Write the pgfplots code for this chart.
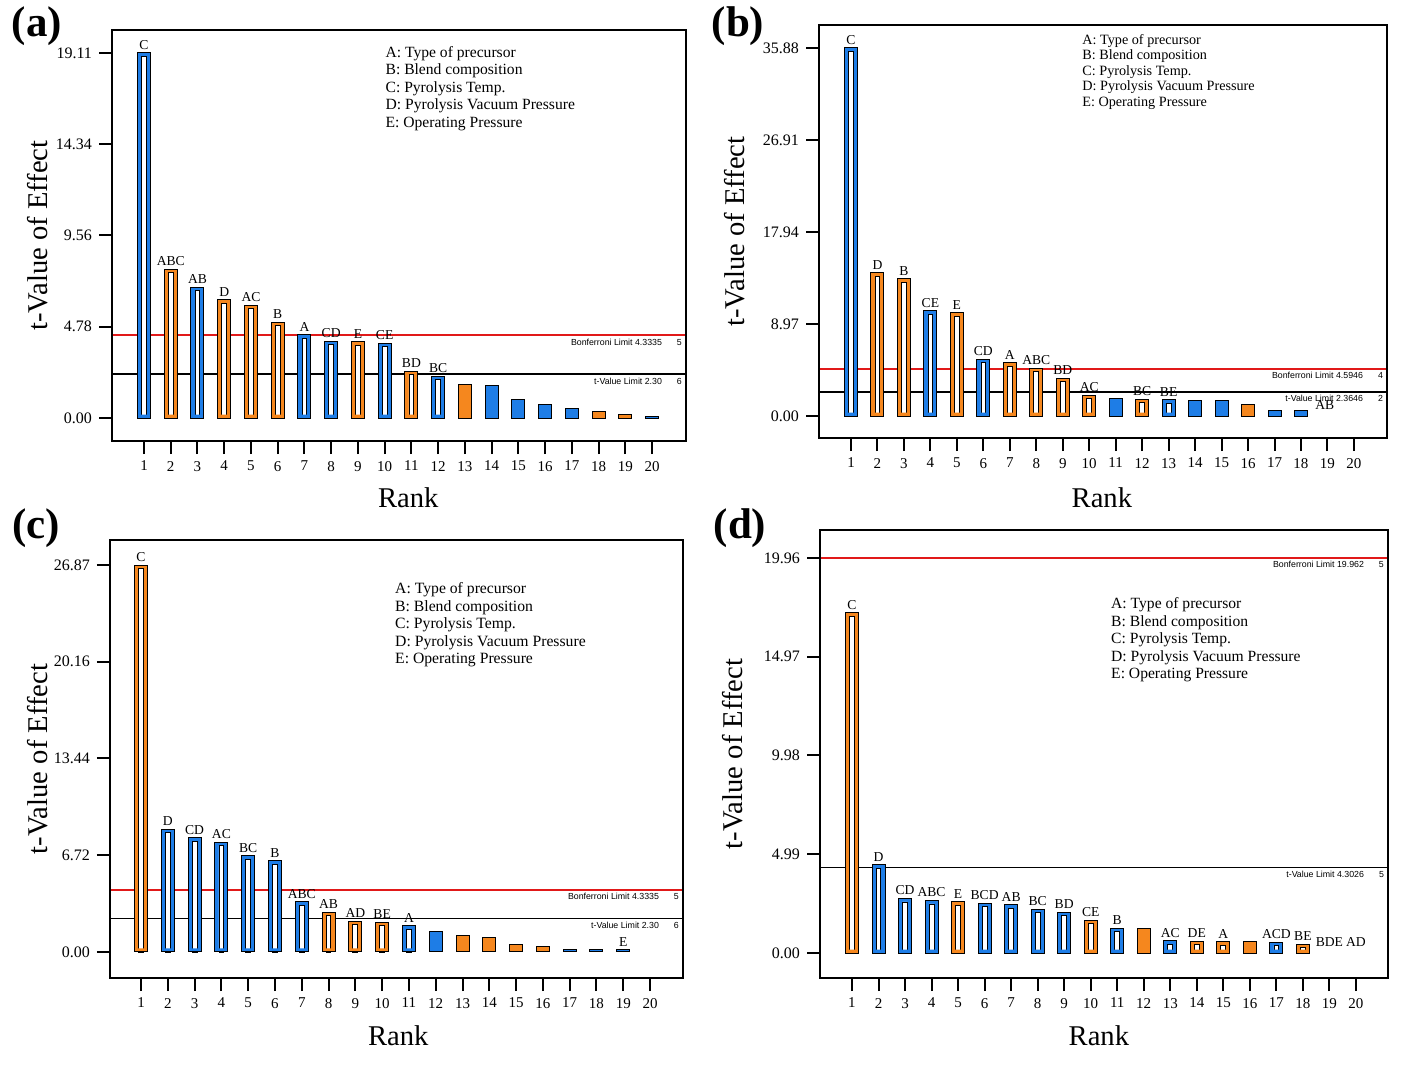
\documentclass[border=0pt]{standalone}
\usepackage{pgfplots}
\pgfplotsset{compat=1.18}
\usepackage{pgfplotstable}
\usepackage{fontspec}
\setmainfont{Liberation Serif}
\newfontfamily\arial{Liberation Sans}
\definecolor{myblue}{RGB}{30,125,230}
\definecolor{myorange}{RGB}{245,135,30}
\definecolor{limred}{RGB}{225,25,25}

% ---------- panel (a)
\pgfplotstableread{
x v
1 19.11
3 6.84
7 4.36
8 4.03
10 3.91
12 2.20
}\HBa
\pgfplotstableread{
x v
2 7.78
4 6.18
5 5.90
6 5.01
9 4.00
11 2.46
}\HOa
\pgfplotstableread{
x v
14 1.68
15 0.99
16 0.72
17 0.52
20 0.10
}\FBa
\pgfplotstableread{
x v
13 1.78
18 0.33
19 0.19
}\FOa
\pgfplotstableread{
x v lab
1 19.11 C
2 7.78 ABC
3 6.84 AB
4 6.18 D
5 5.90 AC
6 5.01 B
7 4.36 A
8 4.03 CD
9 4.00 E
10 3.91 CE
11 2.46 BD
12 2.20 BC
}\La
% ---------- panel (b)
\pgfplotstableread{
x v
1 35.88
4 10.27
6 5.53
13 1.58
}\HBb
\pgfplotstableread{
x v
2 13.97
3 13.39
5 10.07
7 5.20
8 4.65
9 3.67
10 2.02
12 1.62
}\HOb
\pgfplotstableread{
x v
11 1.68
14 1.56
15 1.52
17 0.58
18 0.50
}\FBb
\pgfplotstableread{
x v
16 1.14
}\FOb
\pgfplotstableread{
x v lab
1 35.88 C
2 13.97 D
3 13.39 B
4 10.27 CE
5 10.07 E
6 5.53 CD
7 5.20 A
8 4.65 ABC
9 3.67 BD
10 2.02 AC
12 1.62 BC
13 1.58 BE
18.9 0.3 AB
}\Lb
% ---------- panel (c)
\pgfplotstableread{
x v
2 8.52
3 7.94
4 7.62
5 6.69
6 6.34
7 3.49
11 1.81
}\HBc
\pgfplotstableread{
x v
1 26.87
8 2.76
9 2.13
10 2.06
}\HOc
\pgfplotstableread{
x v
12 1.41
17 0.17
18 0.16
19 0.14
}\FBc
\pgfplotstableread{
x v
13 1.11
14 1.02
15 0.53
16 0.37
}\FOc
\pgfplotstableread{
x v lab
1 26.87 C
2 8.52 D
3 7.94 CD
4 7.62 AC
5 6.69 BC
6 6.34 B
7 3.49 ABC
8 2.76 AB
9 2.13 AD
10 2.06 BE
11 1.81 A
19 0.14 E
}\Lc
% ---------- panel (d)
\pgfplotstableread{
x v
2 4.45
3 2.76
4 2.66
6 2.51
7 2.43
8 2.21
9 2.06
11 1.25
13 0.62
17 0.55
}\HBd
\pgfplotstableread{
x v
1 17.18
5 2.58
10 1.67
14 0.60
15 0.58
18 0.44
}\HOd
\pgfplotstableread{
x v
12 1.22
16 0.57
}\FOd
\pgfplotstableread{
x v lab
1 17.18 C
2 4.45 D
3 2.76 CD
4 2.66 ABC
5 2.58 E
6 2.51 BCD
7 2.43 AB
8 2.21 BC
9 2.06 BD
10 1.67 CE
11 1.25 B
13 0.62 AC
14 0.60 DE
15 0.58 A
17 0.55 ACD
18 0.44 BE
19 0.15 BDE
20 0.15 AD
}\Ld

\newcommand{\hollow}[3]{%
  \addplot[ybar, bar shift=0pt, bar width=6.5pt, fill=#2, draw=black, line width=0.5pt] table[x=x,y=v] {#1};
  \addplot[ybar, bar shift=0pt, bar width=2.4pt, fill=white, draw=black, line width=0.45pt] table[x=x,y expr=\thisrow{v}-#3] {#1};
  \addplot[ybar, bar shift=0pt, bar width=6.1pt, fill=#2, draw=none] table[x=x,y expr=#3] {#1};
  \addplot[ybar, bar shift=0pt, bar width=6.5pt, fill=none, draw=black, line width=0.5pt] table[x=x,y=v] {#1};
}
\newcommand{\filled}[2]{%
  \addplot[ybar, bar shift=0pt, bar width=6.5pt, fill=#2, draw=black, line width=0.5pt] table[x=x,y=v] {#1};
}
\newcommand{\limline}[5]{%
  \addplot[draw=#2, line width=#3] coordinates {(-5,#1) (25,#1)};
  \node[anchor=north east, inner sep=1pt, yshift=-0.6pt, font=\arial\fontsize{4.4}{5}\selectfont] at ({rel axis cs:0.997,0}|-{axis cs:0,#1}) {#4\hspace{7.5pt}#5};
}
\newcommand{\barlabels}[1]{%
  \addplot[ybar, bar shift=0pt, bar width=6pt, draw=none, fill=none, nodes near coords, point meta=explicit symbolic,
    nodes near coords style={font=\fontsize{6.8}{7}\selectfont, anchor=south, inner sep=1.5pt, black}] table[x=x,y=v,meta=lab] {#1};
}
\newcommand{\factors}{A: Type of precursor\\B: Blend composition\\C: Pyrolysis Temp.\\D: Pyrolysis Vacuum Pressure\\E: Operating Pressure}

\pgfplotsset{
  rankaxis/.style={
    scale only axis,
    anchor=south west,
    axis on top,
    axis line style={line width=0.8pt},
    major tick length=6.5pt,
    tick align=outside,
    xtick pos=left, ytick pos=left,
    every tick/.style={black, line width=1pt},
    xtick={1,...,20},
    xticklabels={1,2,3,4,5,6,7,8,9,10,11,12,13,14,15,16,17,18,19,20},
    xticklabel style={font=\fontsize{7.5}{8}\selectfont},
    yticklabel style={font=\fontsize{8}{9}\selectfont, /pgf/number format/.cd, fixed, fixed zerofill, precision=2},
    /pgf/number format/assume math mode=true,
    ylabel={t-Value of Effect}, xlabel={Rank},
    label style={font=\fontsize{14.3}{16}\selectfont},
  }
}

\begin{document}
\begin{tikzpicture}
\useasboundingbox (0,0) rectangle (703pt,539pt);

% (a)
\begin{axis}[rankaxis, at={(56pt,318.5pt)}, width=287pt, height=205.5pt,
  xmin=-0.197, xmax=21.27, ymin=-1.2, ymax=20.31,
  ytick={0,4.78,9.56,14.34,19.11},
  ylabel style={at={(axis description cs:-0.129,0.5)}, anchor=center},
  xlabel style={at={(axis description cs:0.516,-0.139)}, anchor=center}]
  \limline{4.3335}{limred}{1pt}{Bonferroni Limit 4.3335}{5}
  \limline{2.30}{black}{1pt}{t-Value Limit 2.30}{6}
  \hollow{\HBa}{myblue}{0.18}
  \hollow{\HOa}{myorange}{0.18}
  \filled{\FBa}{myblue}
  \filled{\FOa}{myorange}
  \barlabels{\La}
  \node[anchor=north west, inner sep=0pt, align=left, font=\fontsize{7.8}{8.75}\selectfont] at (rel axis cs:0.476,0.961) {\factors};
\end{axis}

% (b)
\begin{axis}[rankaxis, at={(409.5pt,320pt)}, width=284pt, height=206.5pt,
  xmin=-0.209, xmax=21.25, ymin=-2.14, ymax=38.12,
  ytick={0,8.97,17.94,26.91,35.88},
  ylabel style={at={(axis description cs:-0.148,0.5)}, anchor=center},
  xlabel style={at={(axis description cs:0.498,-0.145)}, anchor=center}]
  \limline{4.5946}{limred}{1pt}{Bonferroni Limit 4.5946}{4}
  \limline{2.3646}{black}{1pt}{t-Value Limit 2.3646}{2}
  \hollow{\HBb}{myblue}{0.34}
  \hollow{\HOb}{myorange}{0.34}
  \filled{\FBb}{myblue}
  \filled{\FOb}{myorange}
  \barlabels{\Lb}
  \node[anchor=north west, inner sep=0pt, align=left, font=\fontsize{7.1}{7.75}\selectfont] at (rel axis cs:0.463,0.978) {\factors};
\end{axis}

% (c)
\begin{axis}[rankaxis, at={(55pt,50pt)}, width=286.5pt, height=219pt,
  xmin=-0.157, xmax=21.23, ymin=-1.81, ymax=28.61,
  ytick={0,6.72,13.44,20.16,26.87},
  ylabel style={at={(axis description cs:-0.126,0.5)}, anchor=center},
  xlabel style={at={(axis description cs:0.503,-0.132)}, anchor=center}]
  \limline{4.3335}{limred}{1pt}{Bonferroni Limit 4.3335}{5}
  \limline{2.30}{black}{0.6pt}{t-Value Limit 2.30}{6}
  \hollow{\HBc}{myblue}{0.24}
  \hollow{\HOc}{myorange}{0.24}
  \filled{\FBc}{myblue}
  \filled{\FOc}{myorange}
  \barlabels{\Lc}
  \node[anchor=north west, inner sep=0pt, align=left, font=\fontsize{7.85}{8.75}\selectfont] at (rel axis cs:0.497,0.904) {\factors};
\end{axis}

% (d)
\begin{axis}[rankaxis, at={(410pt,50pt)}, width=284pt, height=224pt,
  xmin=-0.206, xmax=21.21, ymin=-1.26, ymax=21.37,
  ytick={0,4.99,9.98,14.97,19.96},
  ylabel style={at={(axis description cs:-0.153,0.5)}, anchor=center},
  xlabel style={at={(axis description cs:0.491,-0.129)}, anchor=center}]
  \limline{19.962}{limred}{1pt}{Bonferroni Limit 19.962}{5}
  \limline{4.3026}{black}{0.6pt}{t-Value Limit 4.3026}{5}
  \hollow{\HBd}{myblue}{0.18}
  \hollow{\HOd}{myorange}{0.18}
  \filled{\FOd}{myorange}
  \barlabels{\Ld}
  \node[anchor=north west, inner sep=0pt, align=left, font=\fontsize{7.8}{8.75}\selectfont] at (rel axis cs:0.512,0.850) {\factors};
\end{axis}

\node[font=\bfseries\fontsize{21.5}{24}\selectfont] at (18.5pt,526pt) {(a)};
\node[font=\bfseries\fontsize{21.5}{24}\selectfont] at (369pt,526pt) {(b)};
\node[font=\bfseries\fontsize{21.5}{24}\selectfont] at (18pt,275pt) {(c)};
\node[font=\bfseries\fontsize{21.5}{24}\selectfont] at (370pt,275pt) {(d)};
\end{tikzpicture}
\end{document}
